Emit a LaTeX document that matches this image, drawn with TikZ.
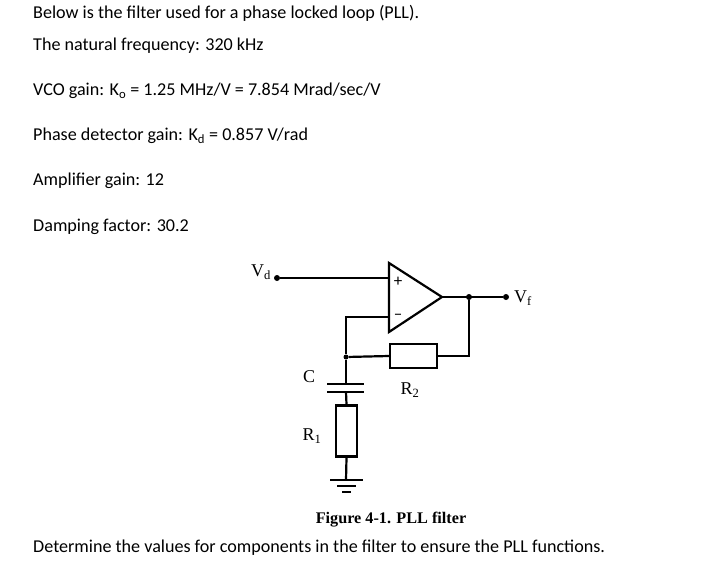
\documentclass[tikz,border=0pt]{standalone}
\usepackage{fontspec}
\setmainfont{Carlito}
\newfontfamily\tnr{Liberation Serif}
\begin{document}
\begin{tikzpicture}[x=1pt,y=-1pt,
  txt/.style={anchor=west,inner sep=0pt,font=\fontsize{18.1}{20}\selectfont},
  lbl/.style={inner sep=0pt,font=\tnr\fontsize{18}{20}\selectfont},
  wire/.style={line width=2.2pt},
  dot/.style={circle,fill,inner sep=0pt,minimum size=6pt},
  res/.style={draw,line width=2.2pt,fill=white,inner sep=0pt}]
\useasboundingbox (0,0) rectangle (722,568);
\node[txt] (t1) at (33,13) {Below is the filter used for a phase locked loop (PLL).};
\node[txt] (t2) at (33,46) {The natural frequency: 320 kHz};
\node[txt] (t3) at (33,91) {VCO gain: K\textsubscript{o} = 1.25 MHz/V = 7.854 Mrad/sec/V};
\node[txt] (t4) at (33,136) {Phase detector gain: K\textsubscript{d} = 0.857 V/rad};
\node[txt] (t5) at (33,181) {Amplifier gain: 12};
\node[txt] (t6) at (33,227) {Damping factor: 30.2};
\node[lbl,font=\tnr\bfseries\fontsize{16.2}{18}\selectfont] (cap) at (391,520) {Figure 4-1. PLL filter};
\node[txt] (t7) at (33,548) {Determine the values for components in the filter to ensure the PLL functions.};
% op-amp
\draw[wire] (389,263) -- (442,297) -- (389,332) -- cycle;
\node[inner sep=0pt,font=\fontsize{17}{17}\selectfont] (plus) at (398,282) {+};
\node[inner sep=0pt,font=\fontsize{17}{17}\selectfont] (minus) at (398,317) {--};
\node[dot] (vd) at (277,278) {};
\node[dot] (vf) at (506,297) {};
\node[dot] (jo) at (469,297) {};
\node[dot,minimum size=5pt] (jn) at (346,357) {};
\coordinate (inp) at (389,278);
\coordinate (inm) at (389,317);
\coordinate (out) at (442,297);
\draw[wire] (vd) -- (inp);
\draw[wire] (out) -- (vf);
\draw[wire] (inm) -- (346,317) -- (jn);
\node[res,minimum width=47pt,minimum height=24pt] (r2) at (413.5,356) {};
\draw[wire] (jn) -- (r2.west);
\draw[wire] (r2.east) -- (469,356) -- (jo);
% capacitor
\coordinate (cp1) at (346,384);
\coordinate (cp2) at (346,392);
\draw[wire] (jn) -- (cp1);
\draw[wire] (327,384) -- (364,384);
\draw[wire] (327,392) -- (364,392);
\node[res,minimum width=21pt,minimum height=51pt] (r1) at (346.5,431) {};
\draw[wire] (cp2) -- (r1.north);
\coordinate (gnd) at (346,480);
\draw[wire] (r1.south) -- (gnd);
\draw[wire] (330,480) -- (363,480);
\draw[wire] (337,486) -- (356,486);
\draw[wire] (342,492) -- (351,492);
\node[lbl] (lvd) at (261,272) {V\textsubscript{d}};
\node[lbl] (lvf) at (523,298) {V\textsubscript{f}};
\node[lbl] (lc) at (309,377) {C};
\node[lbl] (lr2) at (410,390) {R\textsubscript{2}};
\node[lbl] (lr1) at (312,436) {R\textsubscript{1}};
\end{tikzpicture}
\end{document}
